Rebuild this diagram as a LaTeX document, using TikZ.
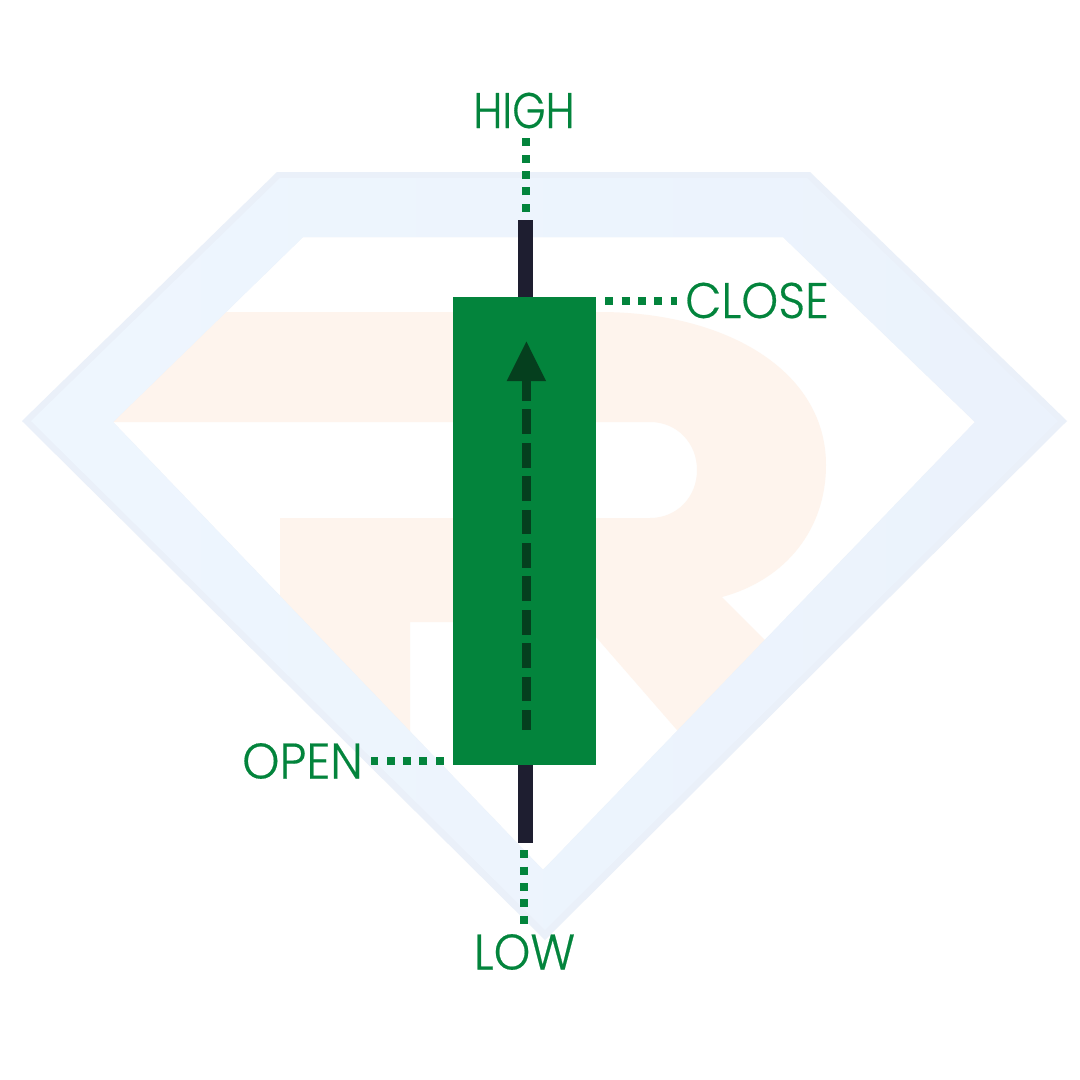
\documentclass[tikz,border=0pt]{standalone}
\usepackage{fontspec}
\setmainfont{Poppins}[UprightFont=* Light,UprightFeatures={FakeBold=0.4}]
\usetikzlibrary{calc}
\definecolor{bandL}{HTML}{EEF6FE}
\definecolor{bandR}{HTML}{EBF2FC}
\definecolor{bandEdge}{HTML}{EAF0F9}
\definecolor{rcol}{HTML}{FEF4ED}
\definecolor{candle}{HTML}{03843C}
\definecolor{wick}{HTML}{1E1E30}
\definecolor{arrowdark}{HTML}{053F1E}
\tikzset{
  x=1pt,y=-1pt,
  lbl/.style={text=candle,inner sep=0pt,font=\fontsize{50}{50}\selectfont,anchor=center},
  dotline/.style={draw=candle,line width=8pt,dash pattern=on 8pt off 8.4pt},
  wickbox/.style={fill=wick,inner sep=0pt,minimum width=15pt},
  shaft/.style={draw=arrowdark,line width=8.6pt,dash pattern=on 24.8pt off 8.6pt}
}
\begin{document}
\begin{tikzpicture}
\useasboundingbox (0,0) rectangle (1080,1080);
\fill[white] (0,0) rectangle (1080,1080);
% R watermark
\fill[rcol] (113,422) -- (226,312) -- (600,312)
  .. controls (725,312) and (826,370) .. (826,465)
  .. controls (826,530) and (785,580) .. (722,597)
  -- (780,655) -- (690,745) -- (596,637) -- (570,622) -- (410,622) -- (410,745)
  -- (280,610) -- (280,518) -- (650,518)
  .. controls (677,518) and (697,497) .. (697,470)
  .. controls (697,443) and (677,422) .. (650,422) -- cycle;
% diamond band
\fill[bandEdge,even odd rule] (277,172) -- (810,172) -- (1067,421) -- (545,940) -- (22,421) -- cycle
  (303,237) -- (783,237) -- (975,422) -- (543,870) -- (113,422) -- cycle;
\shade[left color=bandL,right color=bandR,even odd rule] (280,178) -- (807,178) -- (1058,421) -- (545,930) -- (31,421) -- cycle
  (303,237) -- (783,237) -- (975,422) -- (543,870) -- (113,422) -- cycle;
% candle
\node[wickbox,minimum height=78pt] (wickT) at (525.3,258.5) {};
\node[wickbox,minimum height=78pt] (wickB) at (525.3,804) {};
\node[fill=candle,inner sep=0pt,minimum width=143pt,minimum height=468pt] (body) at (524.5,531) {};
% arrow
\coordinate (arrowBase) at (526.4,376);
\coordinate (arrowEnd) at (526.4,730);
\draw[shaft] (arrowBase) -- (arrowEnd);
\fill[arrowdark] (526.4,341.5) -- (546,381) -- (506.7,381) -- cycle;
% labels
\node[lbl] (high) at (524,110.5) {\scalebox{.855}[1]{HIGH}};
\node[lbl] (close) at (757,300.5) {\scalebox{.94}[1]{CLOSE}};
\node[lbl] (open) at (302.5,761) {\scalebox{.95}[1]{OPEN}};
\node[lbl] (low) at (524.5,952) {\scalebox{.935}[1]{LOW}};
% dotted connectors
\draw[dotline] ([xshift=.7pt,yshift=7.5pt]wickT.north) -- ([xshift=2pt,yshift=-9.5pt]high.south);
\draw[dotline] ([xshift=9pt]body.east |- close.west) -- ([xshift=-8pt]close.west);
\draw[dotline] ([xshift=-9pt]body.west |- open.east) -- ([xshift=8pt]open.east);
\draw[dotline] ([xshift=-1.3pt,yshift=-7pt]wickB.south) -- ([xshift=-.5pt,yshift=9pt]low.north);
\end{tikzpicture}
\end{document}
